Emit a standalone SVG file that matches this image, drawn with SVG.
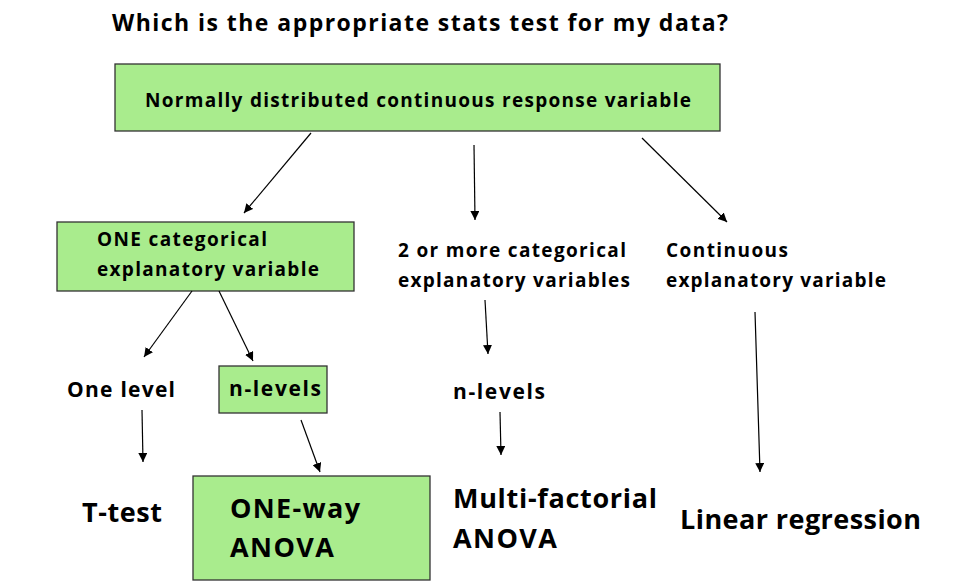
<svg xmlns="http://www.w3.org/2000/svg" width="978" height="586" viewBox="0 0 978 586">
<style>
text{font-family:"Open Sans","Liberation Sans",sans-serif;font-weight:bold;fill:#000}
.box{fill:#a9ec8d;stroke:#333;stroke-width:1.3}
.c line{stroke:#000;stroke-width:1.2;marker-end:url(#ah)}
</style>
<defs><marker id="ah" viewBox="0 0 10 10" refX="10" refY="5" markerWidth="9" markerHeight="9" markerUnits="userSpaceOnUse" orient="auto"><path d="M0,0L10,5L0,10z" fill="#000"/></marker></defs>
<rect width="978" height="586" fill="#fff"/>
<text x="112" y="31" font-size="23" textLength="616">Which is the appropriate stats test for my data?</text>
<g id="n-top"><rect class="box" x="115" y="64" width="605" height="67"/><text x="145" y="107" font-size="19" textLength="546">Normally distributed continuous response variable</text></g>
<g id="n-onecat"><rect class="box" x="57" y="222" width="297" height="69"/><text x="97" y="246" font-size="19" textLength="170">ONE categorical</text><text x="97" y="276" font-size="19" textLength="222">explanatory variable</text></g>
<g id="n-twocat"><text x="398" y="257" font-size="19" textLength="228">2 or more categorical</text><text x="398" y="287" font-size="19" textLength="232">explanatory variables</text></g>
<g id="n-cont"><text x="666" y="257" font-size="19" textLength="122">Continuous</text><text x="666" y="287" font-size="19" textLength="220">explanatory variable</text></g>
<g id="n-onelevel"><text x="67" y="397" font-size="21" textLength="108">One level</text></g>
<g id="n-nlev1"><rect class="box" x="219" y="366" width="108" height="47"/><text x="229" y="396" font-size="21" textLength="92">n-levels</text></g>
<g id="n-nlev2"><text x="453" y="399" font-size="21" textLength="92">n-levels</text></g>
<g id="n-ttest"><text x="82" y="522" font-size="27" textLength="80">T-test</text></g>
<g id="n-oneway"><rect class="box" x="193" y="476" width="237" height="104"/><text x="230" y="518" font-size="27" textLength="130">ONE-way</text><text x="230" y="557" font-size="27" textLength="104">ANOVA</text></g>
<g id="n-multi"><text x="453" y="508" font-size="27" textLength="204">Multi-factorial</text><text x="453" y="548" font-size="27" textLength="104">ANOVA</text></g>
<g id="n-linreg"><text x="680" y="529" font-size="27" textLength="241">Linear regression</text></g>
<g class="c" id="connectors">
<line x1="311" y1="133" x2="244" y2="213"/>
<line x1="474" y1="145" x2="475" y2="220"/>
<line x1="642" y1="138" x2="727" y2="222"/>
<line x1="192" y1="291" x2="144" y2="357"/>
<line x1="219" y1="291" x2="253" y2="361"/>
<line x1="485" y1="300" x2="488" y2="354"/>
<line x1="142" y1="410" x2="143" y2="462"/>
<line x1="301" y1="420" x2="320" y2="472"/>
<line x1="500" y1="412" x2="501" y2="455"/>
<line x1="755" y1="312" x2="760" y2="472"/>
</g>
</svg>
